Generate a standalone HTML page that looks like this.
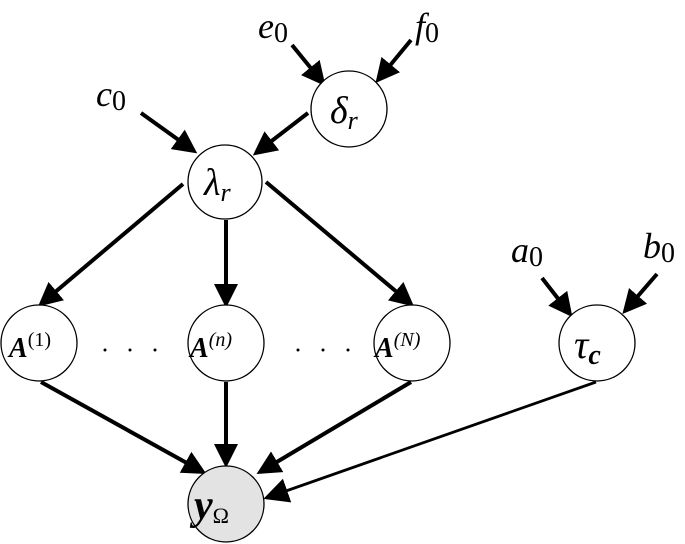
<!DOCTYPE html>
<html><head><style>
html,body{margin:0;padding:0;background:#fff;}
svg{display:block;}
text{font-family:"Liberation Serif",serif;fill:#000;}
</style></head><body>
<svg width="685" height="544" viewBox="0 0 685 544" xmlns="http://www.w3.org/2000/svg">
<defs>
<marker id="ah" markerWidth="6" markerHeight="6" refX="5" refY="3" orient="auto" markerUnits="strokeWidth">
<path d="M0,0 L6,3 L0,6 Z" fill="#000"/>
</marker>
<marker id="ah2" markerWidth="9" markerHeight="9" refX="8" refY="4.5" orient="auto" markerUnits="strokeWidth">
<path d="M0,0 L9,4.5 L0,9 Z" fill="#000"/>
</marker>
</defs>
<g stroke="#000" stroke-width="4" fill="none">
<line x1="292" y1="45" x2="323" y2="83" marker-end="url(#ah)"/>
<line x1="411" y1="40" x2="378" y2="80" marker-end="url(#ah)"/>
<line x1="141" y1="113" x2="194" y2="151" marker-end="url(#ah)"/>
<line x1="308" y1="113" x2="256" y2="153" marker-end="url(#ah)"/>
<line x1="183" y1="184" x2="41" y2="304" marker-end="url(#ah)"/>
<line x1="226" y1="220" x2="226" y2="304" marker-end="url(#ah)"/>
<line x1="266" y1="182" x2="411" y2="304" marker-end="url(#ah)"/>
<line x1="41" y1="382" x2="203" y2="472" marker-end="url(#ah)"/>
<line x1="226" y1="382" x2="226" y2="464" marker-end="url(#ah)"/>
<line x1="411" y1="382" x2="260" y2="472" marker-end="url(#ah)"/>
<line x1="542" y1="278" x2="570" y2="314" marker-end="url(#ah)"/>
<line x1="657" y1="274" x2="625" y2="311" marker-end="url(#ah)"/>
</g>
<line x1="596" y1="382" x2="266" y2="498" stroke="#000" stroke-width="2.8" marker-end="url(#ah2)"/>
<g stroke="#000" stroke-width="1.3" fill="#fff">
<circle cx="349" cy="109" r="38"/>
<circle cx="225" cy="182" r="37"/>
<circle cx="39" cy="343" r="38"/>
<circle cx="226" cy="343" r="38"/>
<circle cx="412" cy="343" r="38"/>
<circle cx="597" cy="343" r="38"/>
<circle cx="226" cy="504" r="38" fill="#e3e3e3"/>
</g>
<text x="258" y="38" font-size="36" font-style="italic">e<tspan font-style="normal" font-size="28" dy="4">0</tspan></text>
<text x="415" y="38" font-size="36" font-style="italic">f<tspan font-style="normal" font-size="28" dy="4">0</tspan></text>
<text x="96" y="106" font-size="36" font-style="italic">c<tspan font-style="normal" font-size="28" dy="4">0</tspan></text>
<text x="511" y="262" font-size="36" font-style="italic">a<tspan font-style="normal" font-size="28" dy="4">0</tspan></text>
<text x="643" y="258" font-size="36" font-style="italic">b<tspan font-style="normal" font-size="28" dy="4">0</tspan></text>
<text x="330" y="123" font-size="38" font-style="italic">δ<tspan font-size="26" dy="6">r</tspan></text>
<text x="204" y="195" font-size="38" font-style="italic">λ<tspan font-size="26" dy="6">r</tspan></text>
<text x="574" y="358" font-size="40" font-style="italic">τ<tspan font-size="28" font-weight="bold" dy="6">c</tspan></text>
<text x="9" y="357" font-size="28" font-style="italic" font-weight="bold">A<tspan font-style="normal" font-weight="normal" font-size="20" dy="-11">(1)</tspan></text>
<text x="190" y="357" font-size="28" font-style="italic" font-weight="bold">A<tspan font-weight="normal" font-size="20" dy="-11">(<tspan font-style="italic">n</tspan>)</tspan></text>
<text x="375" y="357" font-size="28" font-style="italic" font-weight="bold">A<tspan font-weight="normal" font-size="20" dy="-11">(<tspan font-style="italic">N</tspan>)</tspan></text>
<text x="194" y="519" font-size="42" font-style="italic" font-weight="bold">y<tspan font-style="normal" font-weight="normal" font-size="22" dy="4">Ω</tspan></text>
<g fill="#000">
<circle cx="105" cy="350" r="1.5"/><circle cx="130" cy="350" r="1.5"/><circle cx="155" cy="350" r="1.5"/>
<circle cx="298" cy="350" r="1.5"/><circle cx="323" cy="350" r="1.5"/><circle cx="348" cy="350" r="1.5"/>
</g>
</svg>
</body></html>
